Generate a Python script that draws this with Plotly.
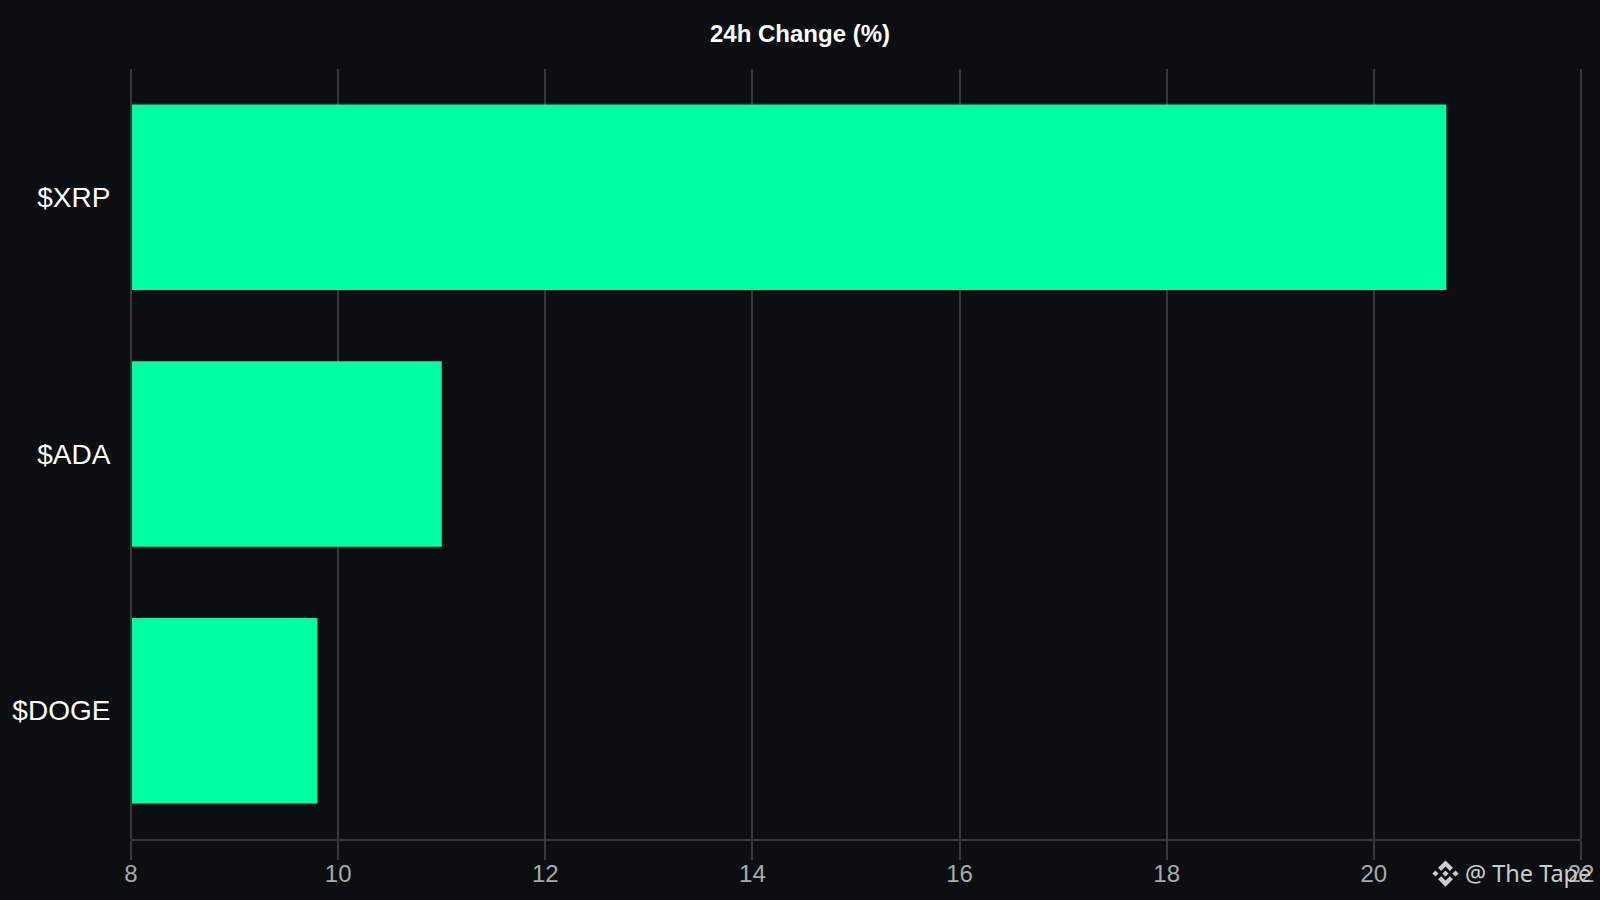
import base64
import plotly.graph_objects as go

categories = ["$DOGE", "$ADA", "$XRP"]
values = [9.8, 11.0, 20.7]
tick_values = [8, 10, 12, 14, 16, 18, 20, 22]
title_text = "24h Change (%)"
watermark = "@ The Tape"

GRID = "#383838"
BG = "#0b0f12"
MARGIN = dict(l=131, r=19, t=69, b=61)
PLOT_W = 1600 - MARGIN["l"] - MARGIN["r"]
PLOT_H = 900 - MARGIN["t"] - MARGIN["b"]

logo_svg = (
    '<svg xmlns="http://www.w3.org/2000/svg" viewBox="0 0 32 32"><g fill="#cccccc">'
    '<path d="M16 1L24.5 9.5L21 13L16 8L11 13L7.5 9.5Z"/>'
    '<path d="M16 31L24.5 22.5L21 19L16 24L11 19L7.5 22.5Z"/>'
    '<path d="M1 16L4.5 12.5L8 16L4.5 19.5Z"/>'
    '<path d="M31 16L27.5 12.5L24 16L27.5 19.5Z"/>'
    '<path d="M16 12.5L19.5 16L16 19.5L12.5 16Z"/>'
    '</g></svg>'
)
logo_uri = "data:image/svg+xml;base64," + base64.b64encode(logo_svg.encode()).decode()

fig = go.Figure(go.Bar(
    x=values, y=categories, orientation="h", width=0.723,
    marker=dict(color="#00ffa3", line=dict(width=0)),
    hoverinfo="skip",
))
fig.update_layout(
    width=1600, height=900,
    autosize=False,
    paper_bgcolor=BG, plot_bgcolor=BG,
    margin=dict(**MARGIN, autoexpand=False),
    showlegend=False,
    font=dict(family="Liberation Sans"),
    title=dict(text="<b>" + title_text + "</b>", x=0.5, xanchor="center", y=0.9622, yanchor="middle",
               font=dict(size=24, color="#ffffff", family="Liberation Sans")),
    xaxis=dict(range=[8, 22], tickvals=tick_values, showgrid=True, gridcolor=GRID, gridwidth=2,
               zeroline=False, showline=True, linecolor=GRID, linewidth=2, automargin=False,
               ticks="outside", ticklen=19, tickwidth=2, tickcolor=GRID, ticklabelstandoff=-7,
               tickfont=dict(size=24, color="#aaaaaa"), ticklabeloverflow="allow"),
    yaxis=dict(showgrid=False, zeroline=False, showline=False,
               ticks="outside", ticklen=14, automargin=False,
               tickcolor="rgba(0,0,0,0)", tickfont=dict(size=28, color="#ffffff"), range=[-0.5, 2.5]),
    shapes=[dict(type="line", xref="paper", yref="paper", x0=p, x1=p, y0=0, y1=1,
                 line=dict(color=GRID, width=2), layer="above") for p in (0, 1)],
    annotations=[dict(text=watermark, xref="paper", yref="paper", x=1.0, y=0.0, xanchor="right", yanchor="top",
                      xshift=12, yshift=-16, showarrow=False,
                      font=dict(size=23.5, color="#cccccc", family="Noto Sans"))],
    images=[dict(source=logo_uri, xref="paper", yref="paper",
                 x=(1445.5 - MARGIN["l"]) / PLOT_W, y=-(873.5 - 839) / PLOT_H,
                 xanchor="center", yanchor="middle",
                 sizex=28 / PLOT_W, sizey=28 / PLOT_H, sizing="stretch", layer="above")],
)
fig.write_html("out.html", config={"displayModeBar": False},
               post_script="document.body.style.margin='0';document.documentElement.style.overflow='hidden';")
